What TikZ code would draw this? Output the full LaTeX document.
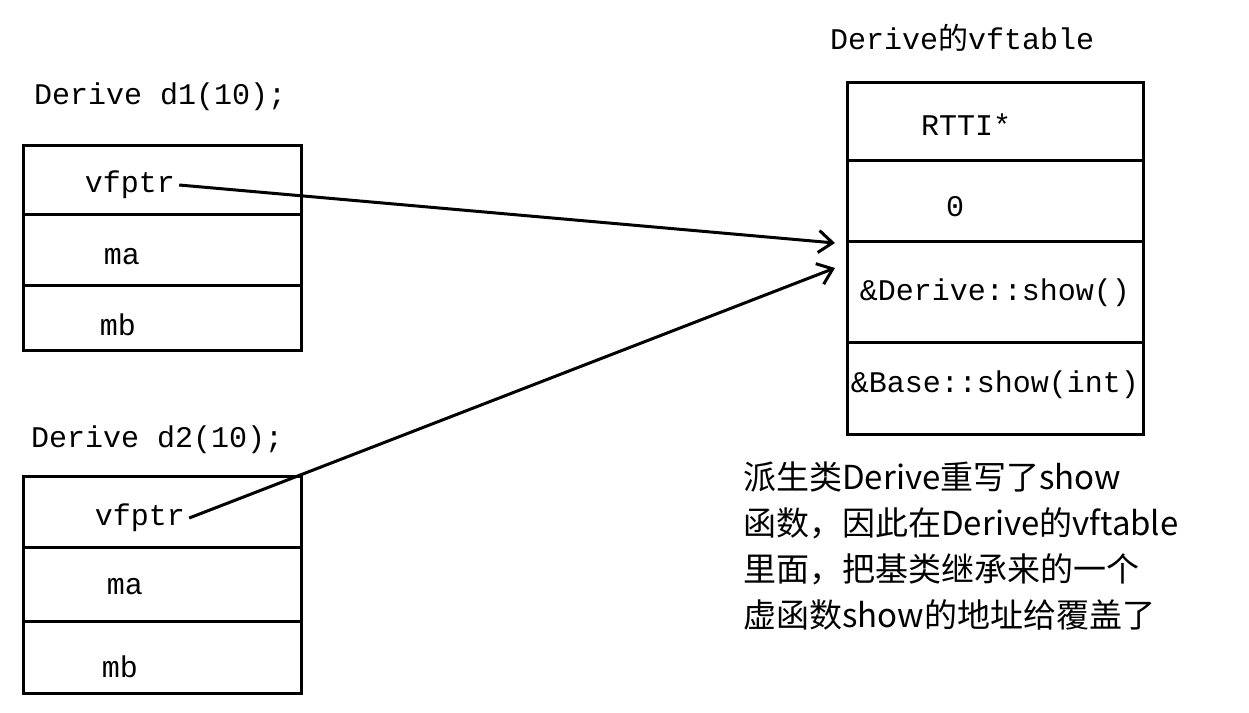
\documentclass[tikz,border=0pt]{standalone}
\usepackage{fontspec}
\setmainfont{Liberation Mono}
\newfontfamily\cjk{Noto Sans CJK SC}
\usetikzlibrary{arrows.meta}
\begin{document}
\begin{tikzpicture}[x=1pt,y=-1pt,
  cell/.style={draw,line width=3pt,inner sep=0pt,anchor=north west},
  txt/.style={font=\fontsize{30}{32}\selectfont,inner sep=0pt},
  arr/.style={line width=3pt,-{Straight Barb[length=14pt,width=22pt,line width=3pt]}}]
\useasboundingbox (0,0) rectangle (1249,712);
% left object 1
\node[txt,anchor=west] (l1) at (34,97) {Derive d1(10);};
\node[cell,minimum width=278pt,minimum height=69pt] (a1) at (22,144) {};
\node[cell,minimum width=278pt,minimum height=71pt] (a2) at (22,213) {};
\node[cell,minimum width=278pt,minimum height=65pt] (a3) at (22,284) {};
\node[txt] (v1) at (130,185) {vfptr};
\node[txt] (m1) at (122,257) {ma};
\node[txt] (n1) at (118,325) {mb};
% left object 2
\node[txt,anchor=west] (l2) at (31,440) {Derive d2(10);};
\node[cell,minimum width=278pt,minimum height=71pt] (b1) at (22,475) {};
\node[cell,minimum width=278pt,minimum height=74pt] (b2) at (22,546) {};
\node[cell,minimum width=278pt,minimum height=72pt] (b3) at (22,620) {};
\node[txt] (v2) at (140,518) {vfptr};
\node[txt] (m2) at (125,587) {ma};
\node[txt] (n2) at (120,667) {mb};
% vftable
\node[txt,anchor=west] (t) at (830,38) {Derive{\cjk 的}vftable};
\node[cell,minimum width=296pt,minimum height=78pt] (r1) at (846,81) {};
\node[cell,minimum width=296pt,minimum height=81pt] (r2) at (846,159) {};
\node[cell,minimum width=296pt,minimum height=101pt] (r3) at (846,240) {};
\node[cell,minimum width=296pt,minimum height=92pt] (r4) at (846,341) {};
\node[txt] (s1) at (966,125) {RTTI*};
\node[txt] (s2) at (955,207) {0};
\node[txt] (s3) at (995,293) {\&Derive::show()};
\node[txt] (s4) at (995,385) {\&Base::show(int)};
% arrows
\coordinate (e1) at (835,243);
\coordinate (e2) at (835,268);
\draw[arr] ([xshift=4pt]v1.east) -- (e1);
\draw[arr] ([xshift=4pt]v2.east) -- (e2);
% note
\node[font=\cjk\fontsize{33}{46}\selectfont,align=left,anchor=north west,inner sep=0pt] (note) at (743,462)
{派生类Derive重写了show\\函数，因此在Derive的vftable\\里面，把基类继承来的一个\\虚函数show的地址给覆盖了};
\end{tikzpicture}
\end{document}
